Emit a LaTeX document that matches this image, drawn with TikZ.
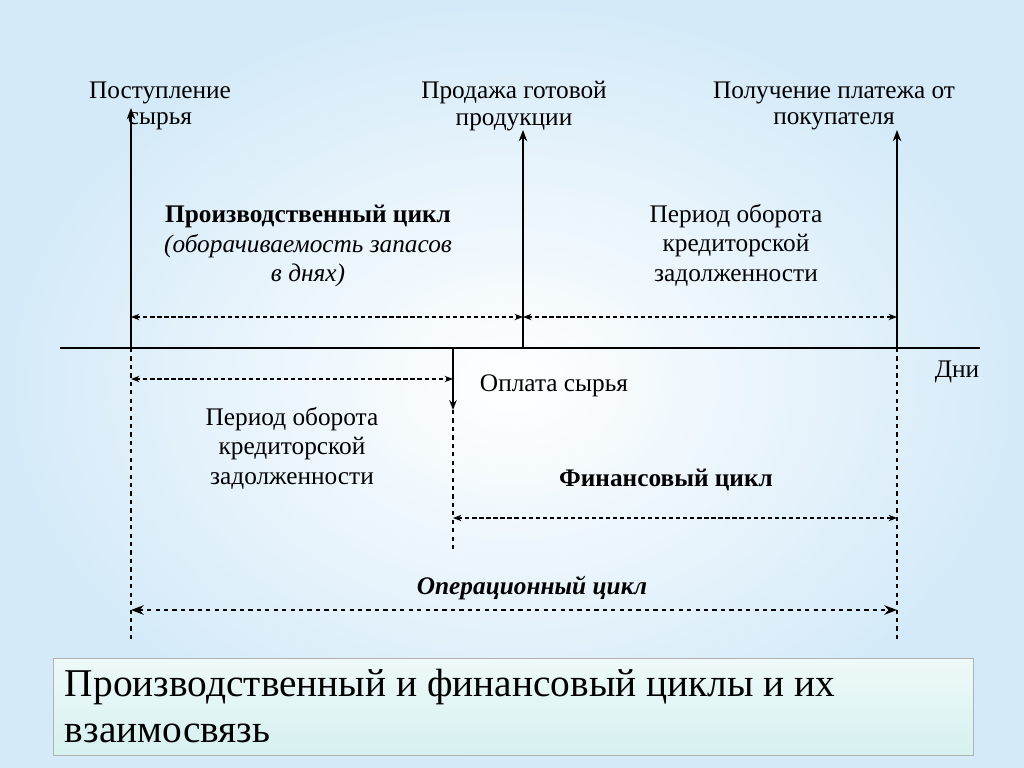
\documentclass[tikz,border=0pt]{standalone}
\usepackage{fontspec}
\setmainfont{Liberation Serif}
\usetikzlibrary{arrows.meta}
\definecolor{bgblue}{RGB}{212,234,248}
\definecolor{titlebg}{RGB}{214,240,240}
\tikzset{
  dotarrow/.style={densely dashed,{Stealth[length=6pt]}-{Stealth[length=6pt]},line width=0.8pt},
  guide/.style={dashed,line width=0.8pt},
  label/.style={align=center,font=\fontsize{18}{22}\selectfont}
}
\begin{document}
\begin{tikzpicture}[x=0.025cm,y=-0.025cm]
\useasboundingbox (0,0) rectangle (1024,768);
% background
\shade[inner color=white,outer color=bgblue] (0,0) rectangle (1024,768);
% axis
\draw[line width=1.6pt] (60,348) -- (980,348);
\node[label] (days) at (957,372) {Дни};
% events
\coordinate (raw) at (131,348);
\coordinate (sale) at (523,348);
\coordinate (pay) at (897,348);
\coordinate (rawpay) at (453,348);
\node[label] (rawlbl) at (160,106) {Поступление\\[-3pt]сырья};
\node[label] (salelbl) at (514,106) {Продажа готовой\\[-3pt]продукции};
\node[label] (paylbl) at (834,106) {Получение платежа от\\[-3pt]покупателя};
\draw[line width=1.2pt,-{Stealth[length=8pt]}] (raw) -- (131,108);
\draw[line width=1.2pt,-{Stealth[length=8pt]}] (sale) -- (523,130);
\draw[line width=1.2pt,-{Stealth[length=8pt]}] (pay) -- (897,130);
\draw[line width=1.2pt,-{Stealth[length=7pt]}] (rawpay) -- (453,410);
\draw[guide] (453,410) -- (453,550);
\draw[guide] (raw) -- (131,642);
\draw[guide] (pay) -- (897,642);
% spans
\draw[dotarrow] (131,317) -- (523,317);
\draw[dotarrow] (523,317) -- (897,317);
\draw[dotarrow] (131,379) -- (453,379);
\draw[dotarrow] (453,518) -- (897,518);
\draw[dashed,line width=1.5pt,{Stealth[length=9pt]}-{Stealth[length=9pt]}] (131,610) -- (897,610);
% texts
\node[label] (prod) at (308,246) {\textbf{Производственный цикл}\\[-1pt]\textit{(оборачиваемость запасов}\\[-1pt]\textit{в днях)}};
\node[label] (credit1) at (736,245) {Период оборота\\[-1pt]кредиторской\\[-1pt]задолженности};
\node[label] (rawpaylbl) at (554,386) {Оплата сырья};
\node[label] (credit2) at (292,448) {Период оборота\\[-1pt]кредиторской\\[-1pt]задолженности};
\node[label] (fin) at (666,480) {\textbf{Финансовый цикл}};
\node[label] (oper) at (532,588) {\textbf{\textit{Операционный цикл}}};
% title
\shade[top color=white!60!titlebg,bottom color=titlebg,draw=gray!60] (53,658) rectangle (973,755);
\node[anchor=west,align=left,font=\fontsize{28}{33}\selectfont] (title) at (60,706)
  {Производственный и финансовый циклы и их\\взаимосвязь};
\end{tikzpicture}
\end{document}
